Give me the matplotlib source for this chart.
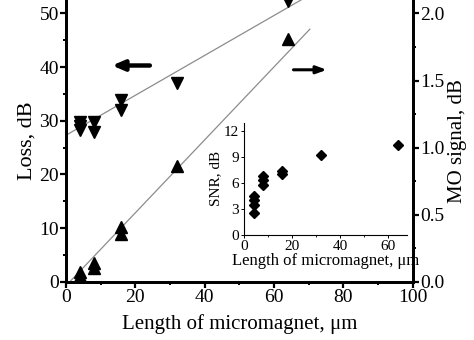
import matplotlib
matplotlib.use("Agg")
import matplotlib.pyplot as plt
import numpy as np

plt.rcParams['font.family'] = ['Liberation Serif', 'DejaVu Serif']
plt.rcParams['mathtext.fontset'] = 'stix'

# loss, dB (left axis) - down triangles
loss_x = [4, 4, 4, 8, 8, 16, 16, 32, 64]
loss_y = [28.2, 29.0, 29.8, 28.0, 29.8, 32.0, 33.8, 37.0, 52.3]
loss_fit = (0.372, 27.3)      # slope, intercept
loss_fit_x = [0, 68.5]

# MO signal, dB (right axis) - up triangles
mo_x = [4, 4, 8, 8, 16, 16, 32, 64]
mo_y = [0.045, 0.07, 0.10, 0.14, 0.36, 0.41, 0.86, 1.81]
mo_fit = (0.0272, -0.03)
mo_fit_x = [1.1, 70.3]

# inset: SNR, dB
snr_x = [4, 4, 4, 4, 8, 8, 8, 16, 16, 32, 64]
snr_y = [2.5, 3.5, 4.0, 4.5, 5.8, 6.4, 6.8, 7.1, 7.4, 9.3, 10.4]


def style_ax(ax, width=2.0):
	for s in ax.spines.values():
		s.set_linewidth(width)
	ax.tick_params(direction='out', width=width * 0.8, length=4)
	ax.tick_params(which='minor', direction='out', width=width * 0.7, length=2.5)


fig = plt.figure(figsize=(4.74, 3.4), dpi=100)
ax = fig.add_axes([0.139, 0.171, 0.732, 0.829])
ax2 = ax.twinx()

ax.set_xlim(0, 100)
ax.set_ylim(0, 52.5)
ax2.set_ylim(0, 2.1)
ax.set_xticks([0, 20, 40, 60, 80, 100])
ax.set_xticks([10, 30, 50, 70, 90], minor=True)
ax.set_yticks([0, 10, 20, 30, 40, 50])
ax.set_yticks([5, 15, 25, 35, 45], minor=True)
ax2.set_yticks([0, 0.5, 1.0, 1.5, 2.0])
ax2.set_yticks([0.25, 0.75, 1.25, 1.75], minor=True)
ax2.set_yticklabels(['0.0', '0.5', '1.0', '1.5', '2.0'])
style_ax(ax)
style_ax(ax2)
ax.spines['top'].set_visible(False)
ax2.spines['top'].set_visible(False)
ax.tick_params(labelsize=14, pad=1)
ax2.tick_params(labelsize=14, pad=1)

lx = np.array(loss_fit_x)
ax.plot(lx, loss_fit[0] * lx + loss_fit[1], color='#8c8c8c', lw=0.9)
ax.plot(loss_x, loss_y, 'v', color='black', ms=9, ls='none')
mx = np.array(mo_fit_x)
ax2.plot(mx, mo_fit[0] * mx + mo_fit[1], color='#8c8c8c', lw=0.9)
ax2.plot(mo_x, mo_y, '^', color='black', ms=9, ls='none')

ax.annotate('', xy=(12.5, 40.3), xytext=(25, 40.3),
			arrowprops=dict(arrowstyle='-|>,head_length=0.7,head_width=0.3', color='black', lw=3.2))
ax.annotate('', xy=(76, 39.5), xytext=(64.8, 39.5),
			arrowprops=dict(arrowstyle='-|>,head_length=0.6,head_width=0.22', color='black', lw=2.2))

ax.set_xlabel('Length of micromagnet, μm', fontsize=15, labelpad=6)
ax.set_ylabel('Loss, dB', fontsize=16, labelpad=2)
ax2.set_ylabel('MO signal, dB', fontsize=15, labelpad=3)

# inset
ins = fig.add_axes([0.515, 0.309, 0.344, 0.33])
ins.set_xlim(0, 68)
ins.set_ylim(0, 13)
ins.spines['top'].set_visible(False)
ins.spines['right'].set_visible(False)
ins.set_xticks([0, 20, 40, 60])
ins.set_xticks([10, 30, 50], minor=True)
ins.set_yticks([0, 3, 6, 9, 12])
for s in ins.spines.values():
	s.set_linewidth(0.8)
ins.tick_params(direction='out', length=2.5, width=0.7, labelsize=11, pad=1)
ins.tick_params(which='minor', direction='out', length=1.5, width=0.6)
ins.plot(snr_x, snr_y, 'D', color='black', ms=5.5, ls='none')
ins.set_xlabel('Length of micromagnet, μm', fontsize=12, labelpad=0)
ins.set_ylabel('SNR, dB', fontsize=11, labelpad=1)

fig.savefig('out.png', dpi=100)
